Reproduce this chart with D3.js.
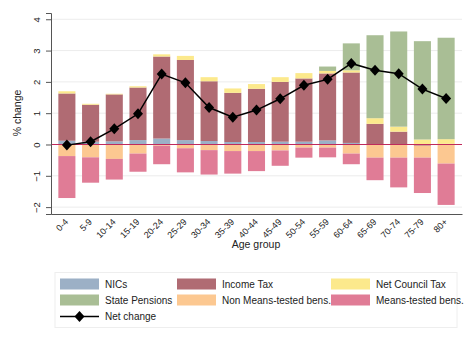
<!DOCTYPE html>
<html>
<head>
<meta charset="utf-8">
<script src="https://cdn.jsdelivr.net/npm/d3@7"></script>
<style>
  body { margin: 0; background: #fff; }
  text { font-family: "Liberation Sans", Arial, sans-serif; fill: #222; }
</style>
</head>
<body>
<svg width="474" height="345"></svg>
<script>
var ages = ["0-4","5-9","10-14","15-19","20-24","25-29","30-34","35-39","40-44",
  "45-49","50-54","55-59","60-64","65-69","70-74","75-79","80+"];

var nics        = [0.12, 0.09, 0.10, 0.14, 0.19, 0.14, 0.11, 0.08, 0.08, 0.09, 0.09, 0.13, 0.05, 0, 0, 0, 0];
var incomeTax   = [1.51, 1.18, 1.50, 1.68, 2.62, 2.56, 1.91, 1.57, 1.70, 1.91, 2.02, 2.14, 2.25, 0.66, 0.41, -0.04, 0.02];
var councilTax  = [0.07, 0.03, 0.02, 0.04, 0.07, 0.13, 0.13, 0.14, 0.15, 0.15, 0.17, 0.08, 0.07, 0.18, 0.16, 0.16, 0.15];
var pensions    = [0, 0, 0, 0, 0, 0, 0, 0, 0, 0, 0, 0.14, 0.86, 2.65, 3.04, 3.14, 3.24];
var nonMeans    = [-0.37, -0.41, -0.46, -0.29, -0.04, -0.12, -0.18, -0.21, -0.21, -0.19, -0.10, -0.10, -0.29, -0.42, -0.42, -0.38, -0.61];
var meansTested = [-1.34, -0.81, -0.66, -0.58, -0.59, -0.77, -0.78, -0.72, -0.64, -0.49, -0.32, -0.31, -0.34, -0.72, -0.95, -1.13, -1.32];
var netChange   = [-0.02, 0.09, 0.50, 0.98, 2.25, 1.97, 1.18, 0.87, 1.10, 1.46, 1.89, 2.08, 2.59, 2.37, 2.26, 1.77, 1.47];

var yTicks = [-2, -1, 0, 1, 2, 3, 4];

var series = [
  {key: "NICs", values: nics, color: "#9cb0c6"},
  {key: "Income Tax", values: incomeTax, color: "#b06b73"},
  {key: "Net Council Tax", values: councilTax, color: "#fce98c"},
  {key: "State Pensions", values: pensions, color: "#a9be95"},
  {key: "Non Means-tested bens.", values: nonMeans, color: "#fcc891"},
  {key: "Means-tested bens.", values: meansTested, color: "#e07c96"}
];

var rows = ages.map(function(a, i) {
  var r = {age: a};
  series.forEach(function(s) { r[s.key] = s.values[i]; });
  return r;
});

var svg = d3.select("svg");

var x = d3.scaleBand().domain(ages).range([51, 462]).paddingInner(0.28).paddingOuter(0.31);
var y = d3.scaleLinear().domain([-2.22, 4.2]).range([214, 13]);

// gridlines
svg.append("g").selectAll("line")
  .data(yTicks.filter(function(d) { return d !== 0; }))
  .enter().append("line")
    .attr("x1", 51).attr("x2", 462)
    .attr("y1", function(d) { return y(d); })
    .attr("y2", function(d) { return y(d); })
    .attr("stroke", "#ececec").attr("stroke-width", 1);

var stack = d3.stack()
  .keys(series.map(function(s) { return s.key; }))
  .offset(d3.stackOffsetDiverging);

var layers = stack(rows);

svg.append("g").selectAll("g")
  .data(layers)
  .enter().append("g")
    .attr("fill", function(d, i) { return series[i].color; })
  .selectAll("rect")
  .data(function(d) { return d; })
  .enter().append("rect")
    .attr("x", function(d) { return x(d.data.age); })
    .attr("width", x.bandwidth())
    .attr("y", function(d) { return y(Math.max(d[0], d[1])); })
    .attr("height", function(d) { return Math.abs(y(d[0]) - y(d[1])); });

// zero line
svg.append("line")
  .attr("x1", 51).attr("x2", 462)
  .attr("y1", y(0)).attr("y2", y(0))
  .attr("stroke", "#c02a5c").attr("stroke-width", 1.2);

// axes
var yAxis = svg.append("g")
  .attr("transform", "translate(51,0)")
  .call(d3.axisLeft(y).tickValues(yTicks).tickFormat(d3.format("d")).tickSize(5).tickPadding(3));
yAxis.select(".domain").attr("stroke", "#555");
yAxis.selectAll(".tick line").attr("stroke", "#555");
yAxis.selectAll(".tick text")
  .attr("font-size", 9.5)
  .attr("x", 0)
  .attr("y", -14)
  .attr("dy", "0.35em")
  .attr("text-anchor", "middle")
  .attr("transform", "rotate(-90)");

var xAxis = svg.append("g")
  .attr("transform", "translate(0,214)")
  .call(d3.axisBottom(x).tickSize(0).tickPadding(0));
xAxis.select(".domain").attr("stroke", "#555");
xAxis.selectAll(".tick text")
  .attr("font-size", 9)
  .attr("text-anchor", "end")
  .attr("y", 0)
  .attr("dy", 0)
  .attr("transform", "translate(2,8.5) rotate(-45)");

svg.append("text")
  .attr("transform", "translate(21,113) rotate(-90)")
  .attr("text-anchor", "middle")
  .attr("font-size", 10.5)
  .text("% change");

svg.append("text")
  .attr("x", 256).attr("y", 248)
  .attr("text-anchor", "middle")
  .attr("font-size", 10.5)
  .text("Age group");

// net change line
var line = d3.line()
  .x(function(d, i) { return x(ages[i]) + x.bandwidth() / 2; })
  .y(function(d) { return y(d); });

svg.append("path")
  .datum(netChange)
  .attr("d", line)
  .attr("fill", "none")
  .attr("stroke", "#000")
  .attr("stroke-width", 1.5);

function diamond(cx, cy) {
  return "M" + cx + "," + (cy - 5.5) + "L" + (cx + 5) + "," + cy +
    "L" + cx + "," + (cy + 5.5) + "L" + (cx - 5) + "," + cy + "Z";
}

svg.append("g").selectAll("path")
  .data(netChange)
  .enter().append("path")
    .attr("d", function(d, i) { return diamond(x(ages[i]) + x.bandwidth() / 2, y(d)); })
    .attr("fill", "#000");

// legend
var legend = svg.append("g");
legend.append("rect")
  .attr("x", 55).attr("y", 272.5).attr("width", 402).attr("height", 55)
  .attr("fill", "#fff").attr("stroke", "#eee");

var cols = [60, 177, 331];
var legRows = [284, 300];
var order = ["NICs", "Income Tax", "Net Council Tax", "State Pensions", "Non Means-tested bens.", "Means-tested bens."];
order.forEach(function(k, i) {
  var s = series.filter(function(d) { return d.key === k; })[0];
  var cx = cols[i % 3], cy = legRows[Math.floor(i / 3)];
  legend.append("rect")
    .attr("x", cx).attr("y", cy - 5.5).attr("width", 39).attr("height", 11)
    .attr("fill", s.color);
  legend.append("text")
    .attr("x", cx + 45).attr("y", cy).attr("dy", "0.35em")
    .attr("font-size", 10)
    .text(k);
});

legend.append("line")
  .attr("x1", 60).attr("x2", 99).attr("y1", 316.5).attr("y2", 316.5)
  .attr("stroke", "#000").attr("stroke-width", 1.5);
legend.append("path").attr("d", diamond(79.5, 316.5)).attr("fill", "#000");
legend.append("text")
  .attr("x", 105).attr("y", 316.5).attr("dy", "0.35em")
  .attr("font-size", 10)
  .text("Net change");
</script>
</body>
</html>
